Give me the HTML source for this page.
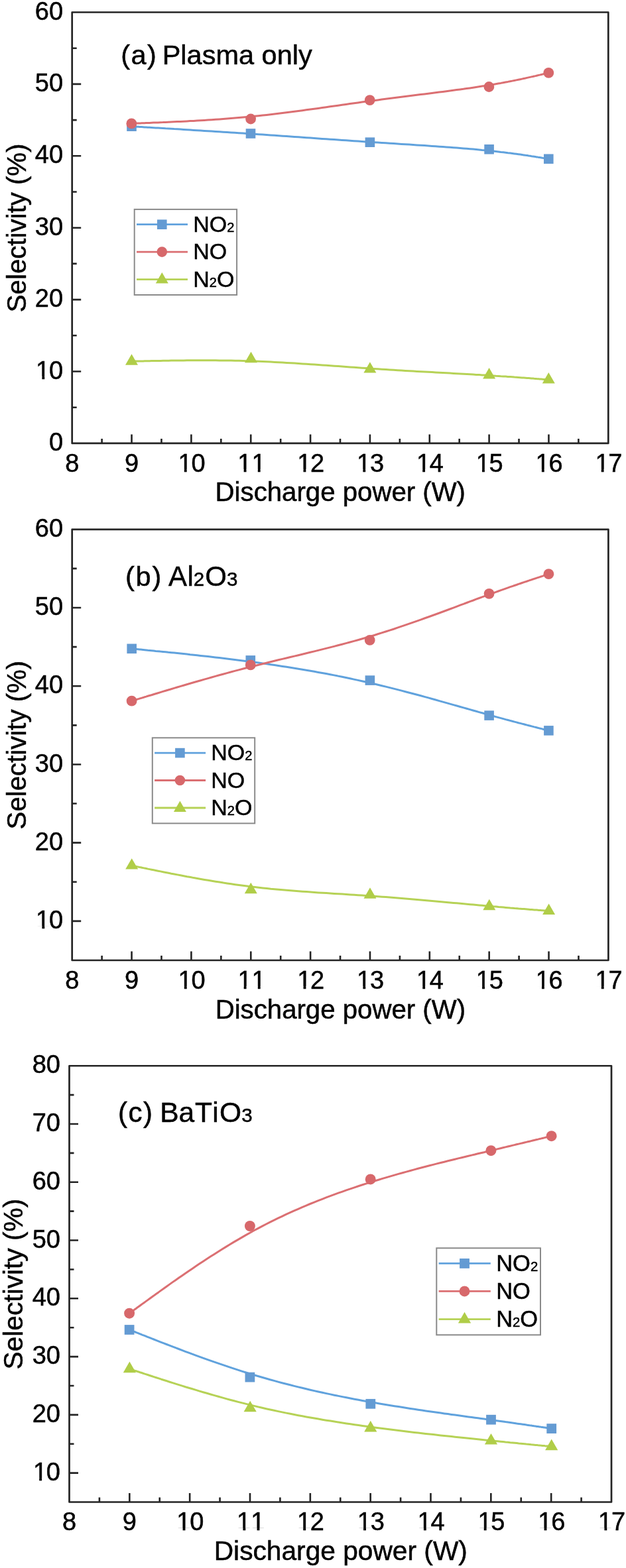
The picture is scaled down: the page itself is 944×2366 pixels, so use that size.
<!DOCTYPE html>
<html><head><meta charset="utf-8"><title>Selectivity vs discharge power</title><style>
html,body{margin:0;padding:0;background:#fff;}
svg{display:block;}
text{font-family:'Liberation Sans', Arial, sans-serif;fill:#000;font-kerning:none;}
.t{stroke:#000;stroke-width:0.5px;}
</style></head><body>
<svg width="944" height="2366" viewBox="0 0 944 2366">
<rect width="944" height="2366" fill="#fff"/>
<g id="panel0">
<path d="M198.5,190.7 L198.5,190.7 L198.5,190.7 L198.5,190.7 L198.6,190.7 L198.6,190.7 L198.7,190.7 L198.9,190.7 L199.1,190.7 L199.3,190.7 L199.6,190.8 L200.0,190.8 L200.4,190.8 L200.9,190.8 L201.5,190.9 L202.2,190.9 L203.0,191.0 L203.9,191.0 L205.0,191.1 L206.1,191.2 L207.4,191.2 L208.8,191.3 L210.3,191.4 L212.0,191.5 L213.8,191.6 L215.8,191.7 L218.0,191.9 L220.3,192.0 L222.8,192.2 L225.5,192.3 L228.4,192.5 L231.5,192.7 L234.8,192.9 L238.3,193.1 L241.9,193.3 L245.7,193.5 L249.7,193.8 L253.9,194.0 L258.2,194.3 L262.6,194.6 L267.2,194.8 L271.9,195.1 L276.8,195.4 L281.7,195.7 L286.8,196.1 L292.0,196.4 L297.3,196.7 L302.7,197.0 L308.1,197.4 L313.7,197.7 L319.3,198.1 L325.0,198.4 L330.7,198.8 L336.5,199.2 L342.4,199.6 L348.3,199.9 L354.2,200.3 L360.1,200.7 L366.1,201.1 L372.1,201.5 L378.1,201.9 L384.1,202.3 L390.0,202.7 L396.0,203.1 L402.0,203.5 L408.0,203.9 L414.0,204.3 L420.0,204.8 L426.0,205.2 L432.0,205.6 L438.0,206.0 L444.0,206.4 L450.0,206.8 L456.0,207.3 L462.0,207.7 L468.0,208.1 L473.9,208.5 L479.9,208.9 L485.9,209.4 L491.9,209.8 L497.9,210.2 L503.9,210.6 L509.9,211.0 L515.9,211.4 L521.9,211.8 L527.9,212.3 L533.9,212.7 L539.9,213.1 L545.9,213.5 L551.9,213.9 L557.9,214.3 L563.9,214.7 L569.8,215.1 L575.8,215.4 L581.8,215.8 L587.8,216.2 L593.7,216.6 L599.6,217.0 L605.5,217.4 L611.4,217.7 L617.2,218.1 L623.0,218.5 L628.8,218.9 L634.5,219.3 L640.2,219.6 L645.9,220.0 L651.5,220.4 L657.0,220.8 L662.5,221.2 L667.9,221.6 L673.3,221.9 L678.5,222.3 L683.8,222.7 L688.9,223.1 L694.0,223.5 L699.0,223.9 L703.9,224.3 L708.7,224.7 L713.4,225.1 L718.1,225.5 L722.6,225.9 L727.0,226.4 L731.4,226.8 L735.6,227.2 L739.8,227.7 L743.8,228.1 L747.7,228.5 L751.6,228.9 L755.3,229.4 L759.0,229.8 L762.5,230.2 L765.9,230.7 L769.3,231.1 L772.5,231.5 L775.7,231.9 L778.7,232.3 L781.6,232.7 L784.5,233.1 L787.2,233.5 L789.9,233.9 L792.4,234.3 L794.9,234.6 L797.2,235.0 L799.4,235.3 L801.6,235.7 L803.6,236.0 L805.6,236.3 L807.4,236.6 L809.2,236.9 L810.8,237.1 L812.3,237.4 L813.8,237.6 L815.1,237.8 L816.4,238.0 L817.6,238.2 L818.6,238.4 L819.6,238.6 L820.6,238.7 L821.4,238.8 L822.2,239.0 L822.9,239.1 L823.5,239.2 L824.1,239.3 L824.6,239.4 L825.0,239.4 L825.4,239.5 L825.8,239.6 L826.1,239.6 L826.3,239.6 L826.6,239.7 L826.7,239.7 L826.9,239.7 L827.0,239.8 L827.1,239.8 L827.2,239.8 L827.2,239.8 L827.3,239.8 L827.3,239.8 L827.3,239.8 L827.3,239.8 L827.3,239.8" fill="none" stroke="#60a2dd" stroke-width="3" stroke-linejoin="round"/>
<rect x="191.20" y="183.40" width="14.60" height="14.60" fill="#649bd3"/>
<rect x="370.70" y="194.20" width="14.60" height="14.60" fill="#649bd3"/>
<rect x="550.60" y="207.40" width="14.60" height="14.60" fill="#649bd3"/>
<rect x="730.30" y="218.00" width="14.60" height="14.60" fill="#649bd3"/>
<rect x="820.00" y="232.50" width="14.60" height="14.60" fill="#649bd3"/>
<path d="M198.3,186.4 L198.3,186.4 L198.3,186.4 L198.3,186.4 L198.4,186.4 L198.4,186.4 L198.5,186.4 L198.7,186.4 L198.9,186.4 L199.1,186.4 L199.4,186.4 L199.8,186.3 L200.2,186.3 L200.7,186.3 L201.3,186.3 L202.0,186.3 L202.8,186.2 L203.8,186.2 L204.8,186.2 L205.9,186.1 L207.2,186.1 L208.6,186.0 L210.1,185.9 L211.8,185.9 L213.6,185.8 L215.6,185.7 L217.8,185.7 L220.1,185.6 L222.7,185.5 L225.4,185.4 L228.3,185.2 L231.4,185.1 L234.7,185.0 L238.1,184.9 L241.8,184.7 L245.6,184.6 L249.6,184.4 L253.8,184.2 L258.1,184.0 L262.5,183.8 L267.1,183.6 L271.8,183.4 L276.7,183.2 L281.7,182.9 L286.7,182.6 L291.9,182.4 L297.2,182.1 L302.6,181.7 L308.1,181.4 L313.6,181.1 L319.3,180.7 L325.0,180.3 L330.7,179.9 L336.5,179.5 L342.4,179.0 L348.3,178.6 L354.2,178.1 L360.1,177.6 L366.1,177.0 L372.1,176.5 L378.1,175.9 L384.1,175.3 L390.0,174.7 L396.0,174.0 L402.0,173.4 L408.0,172.7 L414.0,172.0 L420.0,171.3 L426.0,170.5 L432.0,169.8 L438.0,169.0 L443.9,168.2 L449.9,167.5 L455.9,166.7 L461.9,165.8 L467.9,165.0 L473.9,164.2 L479.9,163.4 L485.9,162.5 L491.8,161.7 L497.8,160.8 L503.8,160.0 L509.8,159.2 L515.8,158.3 L521.8,157.5 L527.8,156.6 L533.8,155.8 L539.8,154.9 L545.7,154.1 L551.7,153.3 L557.7,152.5 L563.7,151.7 L569.7,150.9 L575.7,150.1 L581.6,149.3 L587.6,148.5 L593.5,147.8 L599.4,147.0 L605.3,146.3 L611.2,145.5 L617.1,144.8 L622.9,144.1 L628.6,143.3 L634.4,142.6 L640.0,141.9 L645.7,141.2 L651.3,140.5 L656.8,139.8 L662.3,139.1 L667.7,138.4 L673.1,137.7 L678.4,137.0 L683.6,136.3 L688.7,135.6 L693.8,134.9 L698.8,134.3 L703.7,133.6 L708.5,132.9 L713.3,132.2 L717.9,131.5 L722.4,130.8 L726.9,130.1 L731.2,129.5 L735.5,128.8 L739.6,128.1 L743.7,127.4 L747.6,126.7 L751.4,126.0 L755.2,125.4 L758.8,124.7 L762.4,124.0 L765.8,123.4 L769.2,122.7 L772.4,122.1 L775.6,121.5 L778.6,120.9 L781.6,120.3 L784.4,119.7 L787.1,119.1 L789.8,118.5 L792.3,118.0 L794.8,117.4 L797.1,116.9 L799.4,116.4 L801.5,115.9 L803.6,115.5 L805.5,115.0 L807.4,114.6 L809.1,114.2 L810.8,113.8 L812.3,113.4 L813.8,113.1 L815.1,112.8 L816.4,112.5 L817.5,112.2 L818.6,111.9 L819.6,111.7 L820.5,111.5 L821.4,111.3 L822.2,111.1 L822.9,110.9 L823.5,110.8 L824.1,110.7 L824.6,110.5 L825.0,110.4 L825.4,110.3 L825.8,110.3 L826.1,110.2 L826.3,110.1 L826.6,110.1 L826.7,110.0 L826.9,110.0 L827.0,110.0 L827.1,109.9 L827.2,109.9 L827.2,109.9 L827.3,109.9 L827.3,109.9 L827.3,109.9 L827.3,109.9 L827.3,109.9" fill="none" stroke="#db6f72" stroke-width="3" stroke-linejoin="round"/>
<circle cx="198.30" cy="186.40" r="7.90" fill="#d7686b"/>
<circle cx="378.10" cy="179.50" r="7.90" fill="#d7686b"/>
<circle cx="557.70" cy="151.10" r="7.90" fill="#d7686b"/>
<circle cx="737.40" cy="131.00" r="7.90" fill="#d7686b"/>
<circle cx="827.30" cy="109.90" r="7.90" fill="#d7686b"/>
<path d="M198.5,545.2 L198.5,545.2 L198.5,545.2 L198.5,545.2 L198.6,545.2 L198.6,545.2 L198.7,545.2 L198.9,545.2 L199.1,545.2 L199.3,545.2 L199.6,545.2 L200.0,545.2 L200.4,545.2 L200.9,545.2 L201.5,545.1 L202.2,545.1 L203.1,545.1 L204.0,545.1 L205.0,545.1 L206.1,545.1 L207.4,545.0 L208.8,545.0 L210.3,545.0 L212.0,544.9 L213.9,544.9 L215.9,544.9 L218.0,544.8 L220.4,544.8 L222.9,544.7 L225.6,544.7 L228.5,544.6 L231.6,544.6 L234.9,544.5 L238.4,544.4 L242.0,544.4 L245.9,544.3 L249.9,544.2 L254.0,544.2 L258.3,544.1 L262.8,544.0 L267.4,544.0 L272.1,543.9 L277.0,543.9 L282.0,543.8 L287.0,543.8 L292.2,543.8 L297.5,543.8 L302.9,543.7 L308.4,543.7 L314.0,543.8 L319.6,543.8 L325.3,543.8 L331.0,543.9 L336.8,543.9 L342.7,544.0 L348.6,544.1 L354.5,544.2 L360.5,544.3 L366.4,544.5 L372.4,544.7 L378.4,544.9 L384.4,545.1 L390.4,545.3 L396.4,545.5 L402.4,545.8 L408.3,546.1 L414.3,546.4 L420.3,546.7 L426.3,547.0 L432.3,547.4 L438.3,547.7 L444.3,548.1 L450.2,548.5 L456.2,548.9 L462.2,549.3 L468.2,549.7 L474.2,550.1 L480.2,550.5 L486.1,550.9 L492.1,551.3 L498.1,551.8 L504.1,552.2 L510.1,552.6 L516.1,553.1 L522.0,553.5 L528.0,553.9 L534.0,554.3 L540.0,554.8 L546.0,555.2 L552.0,555.6 L557.9,556.0 L563.9,556.4 L569.9,556.8 L575.9,557.2 L581.9,557.6 L587.8,557.9 L593.7,558.3 L599.7,558.7 L605.6,559.0 L611.4,559.4 L617.3,559.7 L623.1,560.0 L628.8,560.4 L634.6,560.7 L640.2,561.0 L645.9,561.3 L651.5,561.6 L657.0,561.9 L662.5,562.2 L667.9,562.5 L673.3,562.8 L678.5,563.1 L683.8,563.4 L688.9,563.7 L694.0,564.0 L699.0,564.3 L703.9,564.5 L708.7,564.8 L713.4,565.1 L718.1,565.4 L722.6,565.6 L727.0,565.9 L731.4,566.1 L735.6,566.4 L739.8,566.7 L743.8,566.9 L747.7,567.2 L751.6,567.4 L755.3,567.7 L759.0,567.9 L762.5,568.1 L765.9,568.4 L769.3,568.6 L772.5,568.8 L775.7,569.1 L778.7,569.3 L781.6,569.5 L784.5,569.7 L787.2,569.9 L789.9,570.1 L792.4,570.3 L794.9,570.5 L797.2,570.6 L799.4,570.8 L801.6,571.0 L803.6,571.1 L805.6,571.3 L807.4,571.4 L809.2,571.6 L810.8,571.7 L812.3,571.8 L813.8,571.9 L815.1,572.0 L816.4,572.1 L817.6,572.2 L818.6,572.3 L819.6,572.4 L820.6,572.5 L821.4,572.5 L822.2,572.6 L822.9,572.6 L823.5,572.7 L824.1,572.7 L824.6,572.8 L825.0,572.8 L825.4,572.9 L825.8,572.9 L826.1,572.9 L826.3,572.9 L826.6,572.9 L826.7,573.0 L826.9,573.0 L827.0,573.0 L827.1,573.0 L827.2,573.0 L827.2,573.0 L827.3,573.0 L827.3,573.0 L827.3,573.0 L827.3,573.0 L827.3,573.0" fill="none" stroke="#b6d256" stroke-width="3" stroke-linejoin="round"/>
<polygon points="198.50,534.23 208.00,550.68 189.00,550.68" fill="#b0cd48"/>
<polygon points="378.50,530.73 388.00,547.18 369.00,547.18" fill="#b0cd48"/>
<polygon points="557.90,546.13 567.40,562.58 548.40,562.58" fill="#b0cd48"/>
<polygon points="737.60,554.93 747.10,571.38 728.10,571.38" fill="#b0cd48"/>
<polygon points="827.30,562.03 836.80,578.48 817.80,578.48" fill="#b0cd48"/>
<path d="M198.54,668.9 V655.40 M288.39,668.9 V655.40 M378.23,668.9 V655.40 M468.08,668.9 V655.40 M557.92,668.9 V655.40 M647.77,668.9 V655.40 M737.61,668.9 V655.40 M827.46,668.9 V655.40 M153.62,668.9 V661.90 M243.47,668.9 V661.90 M333.31,668.9 V661.90 M423.16,668.9 V661.90 M513.00,668.9 V661.90 M602.84,668.9 V661.90 M692.69,668.9 V661.90 M782.53,668.9 V661.90 M872.38,668.9 V661.90 M108.7,560.50 H122.20 M108.7,452.10 H122.20 M108.7,343.70 H122.20 M108.7,235.30 H122.20 M108.7,126.90 H122.20 M108.7,614.70 H115.70 M108.7,506.30 H115.70 M108.7,397.90 H115.70 M108.7,289.50 H115.70 M108.7,181.10 H115.70 M108.7,72.70 H115.70" fill="none" stroke="#242424" stroke-width="2.6"/>
<path d="M108.7,18.5 L917.3,18.5 L917.3,668.9 L108.7,668.9 Z" fill="none" stroke="#242424" stroke-width="2.7" stroke-linejoin="round"/>
<text class="t" x="98.13" y="711.70" font-size="38">8</text>
<text class="t" x="187.98" y="711.70" font-size="38">9</text>
<text class="t" x="268.51 288.39" y="711.70" font-size="38">10</text><rect x="269.90" y="707.96" width="7.91" height="5.44" fill="#fff"/><rect x="281.67" y="707.96" width="7.61" height="5.44" fill="#fff"/>
<text class="t" x="358.35 379.49" y="711.70" font-size="38">11</text><rect x="359.75" y="707.96" width="7.91" height="5.44" fill="#fff"/><rect x="371.52" y="707.96" width="7.61" height="5.44" fill="#fff"/><rect x="380.88" y="707.96" width="7.91" height="5.44" fill="#fff"/><rect x="392.65" y="707.96" width="7.61" height="5.44" fill="#fff"/>
<text class="t" x="448.20 468.08" y="711.70" font-size="38">12</text><rect x="449.59" y="707.96" width="7.91" height="5.44" fill="#fff"/><rect x="461.36" y="707.96" width="7.61" height="5.44" fill="#fff"/>
<text class="t" x="538.04 557.92" y="711.70" font-size="38">13</text><rect x="539.44" y="707.96" width="7.91" height="5.44" fill="#fff"/><rect x="551.20" y="707.96" width="7.61" height="5.44" fill="#fff"/>
<text class="t" x="627.89 647.77" y="711.70" font-size="38">14</text><rect x="629.28" y="707.96" width="7.91" height="5.44" fill="#fff"/><rect x="641.05" y="707.96" width="7.61" height="5.44" fill="#fff"/>
<text class="t" x="717.73 737.61" y="711.70" font-size="38">15</text><rect x="719.13" y="707.96" width="7.91" height="5.44" fill="#fff"/><rect x="730.89" y="707.96" width="7.61" height="5.44" fill="#fff"/>
<text class="t" x="807.58 827.46" y="711.70" font-size="38">16</text><rect x="808.97" y="707.96" width="7.91" height="5.44" fill="#fff"/><rect x="820.74" y="707.96" width="7.61" height="5.44" fill="#fff"/>
<text class="t" x="897.42 917.30" y="711.70" font-size="38">17</text><rect x="898.82" y="707.96" width="7.91" height="5.44" fill="#fff"/><rect x="910.58" y="707.96" width="7.61" height="5.44" fill="#fff"/>
<text class="t" x="73.97" y="680.00" font-size="38">0</text>
<text class="t" x="54.09 73.97" y="571.60" font-size="38">10</text><rect x="55.48" y="567.86" width="7.91" height="5.44" fill="#fff"/><rect x="67.25" y="567.86" width="7.61" height="5.44" fill="#fff"/>
<text class="t" x="52.83 73.97" y="463.20" font-size="38">20</text>
<text class="t" x="52.83 73.97" y="354.80" font-size="38">30</text>
<text class="t" x="52.83 73.97" y="246.40" font-size="38">40</text>
<text class="t" x="52.83 73.97" y="138.00" font-size="38">50</text>
<text class="t" x="52.83 73.97" y="29.60" font-size="38">60</text>
<text class="t" x="513.30" y="756.40" text-anchor="middle" font-size="40.2">Discharge power (W)</text>
<text class="t" transform="translate(38.7,343.90) rotate(-90)" text-anchor="middle" font-size="40.2">Selectivity (%)</text>
</g>
<g id="panel1">
<path d="M198.7,978.8 L198.7,978.8 L198.7,978.8 L198.7,978.8 L198.8,978.8 L198.8,978.8 L198.9,978.8 L199.1,978.8 L199.3,978.9 L199.5,978.9 L199.8,978.9 L200.2,978.9 L200.6,979.0 L201.1,979.0 L201.7,979.1 L202.4,979.2 L203.2,979.2 L204.1,979.3 L205.1,979.4 L206.3,979.5 L207.5,979.7 L208.9,979.8 L210.5,980.0 L212.2,980.1 L214.0,980.3 L216.0,980.5 L218.1,980.7 L220.5,980.9 L223.0,981.2 L225.7,981.4 L228.5,981.7 L231.6,982.0 L234.9,982.4 L238.4,982.7 L242.0,983.1 L245.8,983.4 L249.8,983.8 L253.9,984.3 L258.2,984.7 L262.7,985.1 L267.3,985.6 L272.0,986.1 L276.8,986.6 L281.8,987.1 L286.8,987.7 L292.0,988.2 L297.3,988.8 L302.6,989.4 L308.1,990.0 L313.6,990.6 L319.3,991.3 L324.9,991.9 L330.7,992.6 L336.5,993.3 L342.3,994.0 L348.2,994.7 L354.1,995.4 L360.0,996.2 L366.0,996.9 L372.0,997.7 L378.0,998.5 L384.0,999.3 L389.9,1000.1 L395.9,1001.0 L401.9,1001.8 L407.9,1002.7 L413.9,1003.5 L419.9,1004.4 L425.9,1005.4 L431.9,1006.3 L437.9,1007.2 L443.9,1008.2 L449.9,1009.2 L455.9,1010.2 L461.9,1011.2 L467.9,1012.2 L473.9,1013.3 L479.9,1014.4 L485.9,1015.5 L491.9,1016.6 L497.9,1017.7 L503.9,1018.9 L509.9,1020.1 L515.8,1021.3 L521.8,1022.5 L527.8,1023.8 L533.8,1025.1 L539.8,1026.4 L545.8,1027.7 L551.8,1029.0 L557.8,1030.4 L563.8,1031.8 L569.8,1033.2 L575.8,1034.7 L581.8,1036.1 L587.7,1037.6 L593.7,1039.1 L599.6,1040.6 L605.5,1042.1 L611.4,1043.7 L617.2,1045.2 L623.0,1046.8 L628.8,1048.3 L634.5,1049.8 L640.2,1051.4 L645.9,1052.9 L651.5,1054.5 L657.0,1056.0 L662.5,1057.6 L667.9,1059.1 L673.3,1060.6 L678.5,1062.1 L683.8,1063.6 L688.9,1065.0 L694.0,1066.5 L699.0,1067.9 L703.9,1069.3 L708.7,1070.6 L713.4,1072.0 L718.1,1073.3 L722.6,1074.6 L727.1,1075.8 L731.4,1077.0 L735.6,1078.2 L739.8,1079.4 L743.8,1080.5 L747.8,1081.6 L751.6,1082.6 L755.4,1083.6 L759.0,1084.6 L762.5,1085.6 L766.0,1086.5 L769.3,1087.4 L772.6,1088.3 L775.7,1089.1 L778.8,1089.9 L781.7,1090.7 L784.5,1091.4 L787.3,1092.1 L789.9,1092.8 L792.5,1093.5 L794.9,1094.1 L797.3,1094.7 L799.5,1095.3 L801.7,1095.9 L803.7,1096.4 L805.6,1096.9 L807.5,1097.3 L809.2,1097.8 L810.9,1098.2 L812.4,1098.6 L813.9,1099.0 L815.2,1099.3 L816.5,1099.6 L817.7,1099.9 L818.7,1100.2 L819.7,1100.5 L820.7,1100.7 L821.5,1100.9 L822.3,1101.1 L823.0,1101.3 L823.6,1101.4 L824.2,1101.6 L824.7,1101.7 L825.1,1101.8 L825.5,1101.9 L825.9,1102.0 L826.2,1102.1 L826.4,1102.2 L826.7,1102.2 L826.8,1102.3 L827.0,1102.3 L827.1,1102.3 L827.2,1102.4 L827.3,1102.4 L827.3,1102.4 L827.4,1102.4 L827.4,1102.4 L827.4,1102.4 L827.4,1102.4 L827.4,1102.4" fill="none" stroke="#60a2dd" stroke-width="3" stroke-linejoin="round"/>
<rect x="191.40" y="971.50" width="14.60" height="14.60" fill="#649bd3"/>
<rect x="370.50" y="989.10" width="14.60" height="14.60" fill="#649bd3"/>
<rect x="550.60" y="1019.30" width="14.60" height="14.60" fill="#649bd3"/>
<rect x="730.30" y="1072.30" width="14.60" height="14.60" fill="#649bd3"/>
<rect x="820.10" y="1095.10" width="14.60" height="14.60" fill="#649bd3"/>
<path d="M198.6,1057.7 L198.6,1057.7 L198.6,1057.7 L198.6,1057.7 L198.7,1057.7 L198.7,1057.7 L198.8,1057.6 L199.0,1057.6 L199.2,1057.5 L199.4,1057.5 L199.7,1057.4 L200.1,1057.3 L200.5,1057.1 L201.0,1057.0 L201.6,1056.8 L202.3,1056.6 L203.1,1056.3 L204.0,1056.1 L205.1,1055.7 L206.2,1055.4 L207.4,1055.0 L208.8,1054.6 L210.4,1054.1 L212.1,1053.6 L213.9,1053.1 L215.9,1052.5 L218.0,1051.8 L220.4,1051.1 L222.9,1050.3 L225.6,1049.5 L228.5,1048.7 L231.6,1047.7 L234.8,1046.7 L238.3,1045.7 L241.9,1044.6 L245.8,1043.4 L249.7,1042.2 L253.9,1041.0 L258.2,1039.7 L262.6,1038.4 L267.2,1037.0 L271.9,1035.6 L276.7,1034.2 L281.7,1032.8 L286.8,1031.3 L291.9,1029.8 L297.2,1028.2 L302.6,1026.7 L308.1,1025.1 L313.6,1023.6 L319.2,1022.0 L324.9,1020.4 L330.6,1018.8 L336.4,1017.2 L342.3,1015.6 L348.1,1014.0 L354.1,1012.4 L360.0,1010.9 L366.0,1009.3 L371.9,1007.7 L377.9,1006.2 L383.9,1004.7 L389.9,1003.2 L395.9,1001.7 L401.9,1000.2 L407.9,998.7 L413.8,997.3 L419.8,995.8 L425.8,994.4 L431.8,993.0 L437.8,991.5 L443.8,990.1 L449.8,988.7 L455.8,987.2 L461.8,985.8 L467.8,984.3 L473.8,982.9 L479.8,981.4 L485.7,979.9 L491.7,978.4 L497.7,976.9 L503.7,975.4 L509.7,973.8 L515.7,972.2 L521.7,970.6 L527.7,969.0 L533.7,967.4 L539.7,965.7 L545.7,964.0 L551.7,962.2 L557.7,960.5 L563.7,958.7 L569.7,956.8 L575.7,954.9 L581.7,953.0 L587.6,951.1 L593.6,949.2 L599.5,947.2 L605.4,945.2 L611.3,943.2 L617.1,941.2 L622.9,939.1 L628.7,937.1 L634.4,935.1 L640.1,933.0 L645.8,931.0 L651.4,929.0 L656.9,927.0 L662.4,925.0 L667.8,923.0 L673.2,921.0 L678.5,919.0 L683.7,917.1 L688.9,915.1 L693.9,913.2 L698.9,911.4 L703.8,909.5 L708.7,907.7 L713.4,906.0 L718.0,904.2 L722.6,902.5 L727.0,900.9 L731.4,899.3 L735.6,897.8 L739.8,896.3 L743.8,894.8 L747.8,893.4 L751.6,892.0 L755.3,890.7 L759.0,889.4 L762.5,888.1 L766.0,886.9 L769.3,885.7 L772.6,884.6 L775.7,883.5 L778.8,882.5 L781.7,881.4 L784.5,880.5 L787.3,879.5 L789.9,878.6 L792.5,877.8 L794.9,877.0 L797.3,876.2 L799.5,875.4 L801.7,874.7 L803.7,874.0 L805.6,873.4 L807.5,872.8 L809.2,872.2 L810.9,871.6 L812.4,871.1 L813.9,870.7 L815.2,870.2 L816.5,869.8 L817.7,869.4 L818.7,869.1 L819.7,868.7 L820.7,868.4 L821.5,868.1 L822.3,867.9 L823.0,867.7 L823.6,867.5 L824.2,867.3 L824.7,867.1 L825.1,866.9 L825.5,866.8 L825.9,866.7 L826.2,866.6 L826.4,866.5 L826.7,866.4 L826.8,866.4 L827.0,866.3 L827.1,866.3 L827.2,866.3 L827.3,866.2 L827.3,866.2 L827.4,866.2 L827.4,866.2 L827.4,866.2 L827.4,866.2 L827.4,866.2" fill="none" stroke="#db6f72" stroke-width="3" stroke-linejoin="round"/>
<circle cx="198.60" cy="1057.70" r="7.90" fill="#d7686b"/>
<circle cx="377.80" cy="1003.40" r="7.90" fill="#d7686b"/>
<circle cx="557.70" cy="965.90" r="7.90" fill="#d7686b"/>
<circle cx="737.60" cy="895.80" r="7.90" fill="#d7686b"/>
<circle cx="827.40" cy="866.20" r="7.90" fill="#d7686b"/>
<path d="M198.7,1306.1 L198.7,1306.1 L198.7,1306.1 L198.7,1306.1 L198.8,1306.1 L198.8,1306.1 L198.9,1306.1 L199.1,1306.2 L199.3,1306.2 L199.5,1306.3 L199.8,1306.3 L200.2,1306.4 L200.6,1306.5 L201.1,1306.6 L201.7,1306.7 L202.4,1306.9 L203.2,1307.0 L204.1,1307.2 L205.2,1307.4 L206.3,1307.6 L207.6,1307.9 L209.0,1308.2 L210.5,1308.5 L212.2,1308.8 L214.0,1309.2 L216.0,1309.6 L218.2,1310.1 L220.5,1310.5 L223.0,1311.1 L225.7,1311.6 L228.6,1312.2 L231.7,1312.8 L235.0,1313.5 L238.5,1314.2 L242.1,1314.9 L246.0,1315.7 L249.9,1316.5 L254.1,1317.3 L258.4,1318.2 L262.8,1319.0 L267.4,1319.9 L272.2,1320.8 L277.0,1321.7 L282.0,1322.7 L287.1,1323.6 L292.2,1324.6 L297.5,1325.5 L302.9,1326.5 L308.4,1327.4 L313.9,1328.3 L319.5,1329.3 L325.2,1330.2 L331.0,1331.1 L336.8,1332.1 L342.6,1332.9 L348.5,1333.8 L354.4,1334.7 L360.4,1335.5 L366.3,1336.3 L372.3,1337.1 L378.3,1337.9 L384.3,1338.6 L390.3,1339.3 L396.3,1339.9 L402.3,1340.5 L408.3,1341.2 L414.2,1341.7 L420.2,1342.3 L426.2,1342.8 L432.2,1343.3 L438.2,1343.8 L444.2,1344.3 L450.2,1344.8 L456.2,1345.2 L462.2,1345.6 L468.2,1346.1 L474.1,1346.5 L480.1,1346.9 L486.1,1347.2 L492.1,1347.6 L498.1,1348.0 L504.1,1348.4 L510.1,1348.8 L516.1,1349.1 L522.1,1349.5 L528.1,1349.9 L534.1,1350.3 L540.0,1350.7 L546.0,1351.1 L552.0,1351.5 L558.0,1351.9 L564.0,1352.3 L570.0,1352.7 L576.0,1353.2 L581.9,1353.6 L587.9,1354.1 L593.8,1354.5 L599.8,1355.0 L605.7,1355.5 L611.5,1356.0 L617.4,1356.5 L623.2,1357.0 L629.0,1357.4 L634.7,1357.9 L640.4,1358.4 L646.0,1358.9 L651.6,1359.4 L657.2,1359.9 L662.6,1360.4 L668.1,1360.9 L673.4,1361.4 L678.7,1361.9 L683.9,1362.4 L689.1,1362.8 L694.2,1363.3 L699.2,1363.8 L704.1,1364.2 L708.9,1364.7 L713.6,1365.1 L718.3,1365.5 L722.8,1365.9 L727.2,1366.3 L731.6,1366.7 L735.8,1367.1 L740.0,1367.4 L744.0,1367.8 L748.0,1368.1 L751.8,1368.5 L755.5,1368.8 L759.2,1369.1 L762.7,1369.4 L766.2,1369.7 L769.5,1370.0 L772.8,1370.2 L775.9,1370.5 L779.0,1370.7 L781.9,1371.0 L784.7,1371.2 L787.5,1371.4 L790.1,1371.6 L792.7,1371.8 L795.1,1372.0 L797.5,1372.2 L799.7,1372.4 L801.9,1372.5 L803.9,1372.7 L805.8,1372.9 L807.7,1373.0 L809.4,1373.1 L811.1,1373.2 L812.6,1373.4 L814.1,1373.5 L815.4,1373.6 L816.7,1373.7 L817.9,1373.8 L818.9,1373.8 L819.9,1373.9 L820.9,1374.0 L821.7,1374.1 L822.5,1374.1 L823.2,1374.2 L823.8,1374.2 L824.4,1374.3 L824.9,1374.3 L825.3,1374.3 L825.7,1374.4 L826.1,1374.4 L826.4,1374.4 L826.6,1374.4 L826.9,1374.4 L827.0,1374.5 L827.2,1374.5 L827.3,1374.5 L827.4,1374.5 L827.5,1374.5 L827.5,1374.5 L827.6,1374.5 L827.6,1374.5 L827.6,1374.5 L827.6,1374.5 L827.6,1374.5" fill="none" stroke="#b6d256" stroke-width="3" stroke-linejoin="round"/>
<polygon points="198.70,1295.13 208.20,1311.58 189.20,1311.58" fill="#b0cd48"/>
<polygon points="378.30,1331.73 387.80,1348.18 368.80,1348.18" fill="#b0cd48"/>
<polygon points="558.00,1339.23 567.50,1355.68 548.50,1355.68" fill="#b0cd48"/>
<polygon points="737.80,1356.73 747.30,1373.18 728.30,1373.18" fill="#b0cd48"/>
<polygon points="827.60,1363.53 837.10,1379.98 818.10,1379.98" fill="#b0cd48"/>
<path d="M198.56,1449.0 V1435.50 M288.41,1449.0 V1435.50 M378.27,1449.0 V1435.50 M468.12,1449.0 V1435.50 M557.98,1449.0 V1435.50 M647.83,1449.0 V1435.50 M737.69,1449.0 V1435.50 M827.54,1449.0 V1435.50 M153.63,1449.0 V1442.00 M243.48,1449.0 V1442.00 M333.34,1449.0 V1442.00 M423.19,1449.0 V1442.00 M513.05,1449.0 V1442.00 M602.91,1449.0 V1442.00 M692.76,1449.0 V1442.00 M782.62,1449.0 V1442.00 M872.47,1449.0 V1442.00 M108.7,1389.89 H122.20 M108.7,1271.67 H122.20 M108.7,1153.45 H122.20 M108.7,1035.24 H122.20 M108.7,917.02 H122.20 M108.7,1330.78 H115.70 M108.7,1212.56 H115.70 M108.7,1094.35 H115.70 M108.7,976.13 H115.70 M108.7,857.91 H115.70" fill="none" stroke="#242424" stroke-width="2.6"/>
<path d="M108.7,798.8 L917.4,798.8 L917.4,1449.0 L108.7,1449.0 Z" fill="none" stroke="#242424" stroke-width="2.7" stroke-linejoin="round"/>
<text class="t" x="98.13" y="1491.80" font-size="38">8</text>
<text class="t" x="187.99" y="1491.80" font-size="38">9</text>
<text class="t" x="268.53 288.41" y="1491.80" font-size="38">10</text><rect x="269.93" y="1488.06" width="7.91" height="5.44" fill="#fff"/><rect x="281.69" y="1488.06" width="7.61" height="5.44" fill="#fff"/>
<text class="t" x="358.39 379.52" y="1491.80" font-size="38">11</text><rect x="359.78" y="1488.06" width="7.91" height="5.44" fill="#fff"/><rect x="371.55" y="1488.06" width="7.61" height="5.44" fill="#fff"/><rect x="380.92" y="1488.06" width="7.91" height="5.44" fill="#fff"/><rect x="392.68" y="1488.06" width="7.61" height="5.44" fill="#fff"/>
<text class="t" x="448.24 468.12" y="1491.80" font-size="38">12</text><rect x="449.64" y="1488.06" width="7.91" height="5.44" fill="#fff"/><rect x="461.40" y="1488.06" width="7.61" height="5.44" fill="#fff"/>
<text class="t" x="538.10 557.98" y="1491.80" font-size="38">13</text><rect x="539.49" y="1488.06" width="7.91" height="5.44" fill="#fff"/><rect x="551.26" y="1488.06" width="7.61" height="5.44" fill="#fff"/>
<text class="t" x="627.95 647.83" y="1491.80" font-size="38">14</text><rect x="629.35" y="1488.06" width="7.91" height="5.44" fill="#fff"/><rect x="641.12" y="1488.06" width="7.61" height="5.44" fill="#fff"/>
<text class="t" x="717.81 737.69" y="1491.80" font-size="38">15</text><rect x="719.20" y="1488.06" width="7.91" height="5.44" fill="#fff"/><rect x="730.97" y="1488.06" width="7.61" height="5.44" fill="#fff"/>
<text class="t" x="807.66 827.54" y="1491.80" font-size="38">16</text><rect x="809.06" y="1488.06" width="7.91" height="5.44" fill="#fff"/><rect x="820.83" y="1488.06" width="7.61" height="5.44" fill="#fff"/>
<text class="t" x="897.52 917.40" y="1491.80" font-size="38">17</text><rect x="898.92" y="1488.06" width="7.91" height="5.44" fill="#fff"/><rect x="910.68" y="1488.06" width="7.61" height="5.44" fill="#fff"/>
<text class="t" x="54.09 73.97" y="1400.99" font-size="38">10</text><rect x="55.48" y="1397.25" width="7.91" height="5.44" fill="#fff"/><rect x="67.25" y="1397.25" width="7.61" height="5.44" fill="#fff"/>
<text class="t" x="52.83 73.97" y="1282.77" font-size="38">20</text>
<text class="t" x="52.83 73.97" y="1164.55" font-size="38">30</text>
<text class="t" x="52.83 73.97" y="1046.34" font-size="38">40</text>
<text class="t" x="52.83 73.97" y="928.12" font-size="38">50</text>
<text class="t" x="52.83 73.97" y="809.90" font-size="38">60</text>
<text class="t" x="513.35" y="1536.50" text-anchor="middle" font-size="40.2">Discharge power (W)</text>
<text class="t" transform="translate(38.9,1124.10) rotate(-90)" text-anchor="middle" font-size="40.2">Selectivity (%)</text>
</g>
<g id="panel2">
<path d="M195.1,2006.5 L195.1,2006.5 L195.1,2006.5 L195.1,2006.5 L195.2,2006.5 L195.2,2006.6 L195.3,2006.6 L195.5,2006.7 L195.7,2006.7 L195.9,2006.8 L196.2,2006.9 L196.6,2007.1 L197.0,2007.3 L197.6,2007.5 L198.2,2007.7 L198.9,2008.0 L199.7,2008.3 L200.6,2008.7 L201.6,2009.1 L202.8,2009.5 L204.1,2010.0 L205.5,2010.6 L207.0,2011.2 L208.8,2011.9 L210.6,2012.6 L212.6,2013.4 L214.8,2014.3 L217.2,2015.2 L219.7,2016.2 L222.5,2017.3 L225.4,2018.4 L228.5,2019.7 L231.9,2021.0 L235.4,2022.4 L239.1,2023.8 L242.9,2025.3 L247.0,2026.9 L251.2,2028.5 L255.5,2030.2 L260.0,2031.9 L264.7,2033.7 L269.5,2035.5 L274.4,2037.4 L279.4,2039.3 L284.5,2041.2 L289.8,2043.1 L295.1,2045.1 L300.6,2047.1 L306.1,2049.1 L311.7,2051.1 L317.4,2053.1 L323.2,2055.1 L329.0,2057.2 L334.9,2059.2 L340.8,2061.2 L346.7,2063.2 L352.7,2065.2 L358.8,2067.1 L364.8,2069.1 L370.9,2071.0 L376.9,2072.9 L383.0,2074.7 L389.0,2076.5 L395.1,2078.3 L401.2,2080.0 L407.2,2081.8 L413.3,2083.4 L419.4,2085.1 L425.4,2086.7 L431.5,2088.3 L437.5,2089.8 L443.6,2091.4 L449.7,2092.9 L455.7,2094.3 L461.8,2095.8 L467.8,2097.2 L473.9,2098.6 L480.0,2100.0 L486.0,2101.3 L492.1,2102.6 L498.2,2103.9 L504.2,2105.2 L510.3,2106.4 L516.3,2107.6 L522.4,2108.8 L528.5,2110.0 L534.5,2111.2 L540.6,2112.3 L546.6,2113.4 L552.7,2114.5 L558.8,2115.6 L564.8,2116.6 L570.9,2117.7 L576.9,2118.7 L583.0,2119.7 L589.0,2120.7 L595.0,2121.7 L601.0,2122.6 L607.0,2123.6 L612.9,2124.5 L618.8,2125.4 L624.7,2126.3 L630.5,2127.2 L636.3,2128.0 L642.1,2128.9 L647.8,2129.7 L653.4,2130.5 L659.0,2131.3 L664.6,2132.1 L670.0,2132.9 L675.5,2133.6 L680.8,2134.4 L686.1,2135.1 L691.3,2135.8 L696.4,2136.5 L701.5,2137.2 L706.5,2137.9 L711.3,2138.5 L716.1,2139.2 L720.8,2139.8 L725.4,2140.4 L729.9,2141.1 L734.3,2141.7 L738.6,2142.3 L742.8,2142.8 L746.9,2143.4 L750.9,2144.0 L754.8,2144.5 L758.6,2145.0 L762.3,2145.6 L765.9,2146.1 L769.4,2146.6 L772.7,2147.0 L776.0,2147.5 L779.2,2148.0 L782.3,2148.4 L785.3,2148.8 L788.2,2149.2 L791.0,2149.6 L793.7,2150.0 L796.2,2150.4 L798.7,2150.8 L801.1,2151.1 L803.4,2151.4 L805.6,2151.8 L807.6,2152.1 L809.6,2152.4 L811.5,2152.6 L813.3,2152.9 L814.9,2153.1 L816.5,2153.4 L818.0,2153.6 L819.3,2153.8 L820.6,2154.0 L821.8,2154.1 L822.9,2154.3 L823.9,2154.5 L824.9,2154.6 L825.7,2154.7 L826.5,2154.8 L827.2,2154.9 L827.8,2155.0 L828.4,2155.1 L828.9,2155.2 L829.4,2155.3 L829.8,2155.3 L830.2,2155.4 L830.5,2155.4 L830.7,2155.5 L831.0,2155.5 L831.1,2155.5 L831.3,2155.5 L831.4,2155.6 L831.5,2155.6 L831.6,2155.6 L831.6,2155.6 L831.7,2155.6 L831.7,2155.6 L831.7,2155.6 L831.7,2155.6 L831.7,2155.6" fill="none" stroke="#60a2dd" stroke-width="3" stroke-linejoin="round"/>
<rect x="187.73" y="1999.13" width="14.75" height="14.75" fill="#649bd3"/>
<rect x="369.53" y="2070.73" width="14.75" height="14.75" fill="#649bd3"/>
<rect x="551.43" y="2110.93" width="14.75" height="14.75" fill="#649bd3"/>
<rect x="733.13" y="2134.83" width="14.75" height="14.75" fill="#649bd3"/>
<rect x="824.33" y="2148.23" width="14.75" height="14.75" fill="#649bd3"/>
<path d="M195.1,1981.7 L195.1,1981.7 L195.1,1981.7 L195.1,1981.7 L195.2,1981.6 L195.2,1981.6 L195.3,1981.5 L195.5,1981.4 L195.7,1981.3 L195.9,1981.1 L196.2,1980.9 L196.6,1980.6 L197.0,1980.3 L197.6,1979.9 L198.2,1979.5 L198.9,1979.0 L199.7,1978.4 L200.6,1977.7 L201.6,1977.0 L202.8,1976.1 L204.1,1975.2 L205.5,1974.2 L207.0,1973.0 L208.8,1971.8 L210.6,1970.5 L212.6,1969.0 L214.8,1967.4 L217.2,1965.7 L219.7,1963.9 L222.5,1961.9 L225.4,1959.8 L228.5,1957.5 L231.9,1955.1 L235.4,1952.5 L239.1,1949.9 L242.9,1947.1 L247.0,1944.2 L251.2,1941.2 L255.5,1938.1 L260.0,1934.9 L264.7,1931.7 L269.5,1928.3 L274.4,1924.9 L279.4,1921.5 L284.5,1917.9 L289.8,1914.4 L295.1,1910.8 L300.6,1907.1 L306.1,1903.5 L311.7,1899.8 L317.4,1896.1 L323.2,1892.4 L329.0,1888.7 L334.9,1885.0 L340.8,1881.4 L346.7,1877.7 L352.7,1874.1 L358.8,1870.6 L364.8,1867.1 L370.8,1863.6 L376.9,1860.2 L383.0,1856.8 L389.0,1853.6 L395.1,1850.4 L401.1,1847.2 L407.2,1844.1 L413.3,1841.1 L419.3,1838.2 L425.4,1835.3 L431.4,1832.4 L437.5,1829.7 L443.6,1826.9 L449.6,1824.3 L455.7,1821.6 L461.7,1819.1 L467.8,1816.5 L473.9,1814.1 L479.9,1811.7 L486.0,1809.3 L492.0,1806.9 L498.1,1804.7 L504.2,1802.4 L510.2,1800.2 L516.3,1798.1 L522.3,1795.9 L528.4,1793.9 L534.4,1791.8 L540.5,1789.8 L546.6,1787.8 L552.6,1785.9 L558.7,1784.0 L564.7,1782.1 L570.8,1780.2 L576.8,1778.4 L582.9,1776.6 L588.9,1774.9 L594.9,1773.1 L600.9,1771.4 L606.9,1769.7 L612.8,1768.1 L618.7,1766.5 L624.6,1764.9 L630.4,1763.3 L636.2,1761.8 L642.0,1760.3 L647.7,1758.8 L653.3,1757.4 L658.9,1755.9 L664.5,1754.5 L669.9,1753.2 L675.4,1751.8 L680.7,1750.5 L686.0,1749.2 L691.2,1747.9 L696.3,1746.7 L701.4,1745.5 L706.4,1744.3 L711.2,1743.1 L716.0,1742.0 L720.7,1740.8 L725.3,1739.7 L729.8,1738.7 L734.2,1737.6 L738.5,1736.6 L742.7,1735.6 L746.8,1734.6 L750.8,1733.6 L754.7,1732.7 L758.5,1731.8 L762.2,1730.9 L765.8,1730.0 L769.3,1729.2 L772.6,1728.4 L775.9,1727.6 L779.1,1726.8 L782.2,1726.1 L785.2,1725.4 L788.1,1724.7 L790.9,1724.0 L793.6,1723.4 L796.1,1722.8 L798.6,1722.2 L801.0,1721.6 L803.3,1721.0 L805.5,1720.5 L807.5,1720.0 L809.5,1719.5 L811.4,1719.1 L813.2,1718.6 L814.8,1718.2 L816.4,1717.9 L817.9,1717.5 L819.2,1717.2 L820.5,1716.9 L821.7,1716.6 L822.8,1716.3 L823.8,1716.1 L824.8,1715.9 L825.6,1715.6 L826.4,1715.5 L827.1,1715.3 L827.7,1715.1 L828.3,1715.0 L828.8,1714.9 L829.3,1714.8 L829.7,1714.7 L830.1,1714.6 L830.4,1714.5 L830.6,1714.4 L830.9,1714.4 L831.0,1714.3 L831.2,1714.3 L831.3,1714.3 L831.4,1714.2 L831.5,1714.2 L831.5,1714.2 L831.6,1714.2 L831.6,1714.2 L831.6,1714.2 L831.6,1714.2 L831.6,1714.2" fill="none" stroke="#db6f72" stroke-width="3" stroke-linejoin="round"/>
<circle cx="195.10" cy="1981.70" r="7.98" fill="#d7686b"/>
<circle cx="376.90" cy="1850.00" r="7.98" fill="#d7686b"/>
<circle cx="558.70" cy="1779.40" r="7.98" fill="#d7686b"/>
<circle cx="740.40" cy="1736.20" r="7.98" fill="#d7686b"/>
<circle cx="831.60" cy="1714.20" r="7.98" fill="#d7686b"/>
<path d="M195.4,2065.6 L195.4,2065.6 L195.4,2065.6 L195.4,2065.6 L195.5,2065.6 L195.5,2065.6 L195.6,2065.7 L195.8,2065.7 L196.0,2065.8 L196.2,2065.9 L196.5,2066.0 L196.9,2066.1 L197.3,2066.2 L197.9,2066.4 L198.5,2066.6 L199.2,2066.8 L200.0,2067.1 L200.9,2067.4 L201.9,2067.7 L203.1,2068.1 L204.4,2068.5 L205.8,2069.0 L207.3,2069.5 L209.1,2070.0 L210.9,2070.7 L212.9,2071.3 L215.1,2072.0 L217.5,2072.8 L220.0,2073.6 L222.8,2074.5 L225.7,2075.5 L228.8,2076.5 L232.2,2077.6 L235.7,2078.7 L239.4,2079.9 L243.2,2081.2 L247.3,2082.5 L251.5,2083.8 L255.8,2085.2 L260.3,2086.6 L265.0,2088.1 L269.8,2089.6 L274.7,2091.1 L279.7,2092.7 L284.8,2094.2 L290.1,2095.8 L295.4,2097.4 L300.9,2099.1 L306.4,2100.7 L312.0,2102.3 L317.7,2104.0 L323.5,2105.6 L329.3,2107.3 L335.1,2108.9 L341.1,2110.6 L347.0,2112.2 L353.0,2113.8 L359.0,2115.4 L365.1,2116.9 L371.1,2118.4 L377.2,2119.9 L383.2,2121.4 L389.3,2122.9 L395.3,2124.3 L401.4,2125.7 L407.4,2127.0 L413.5,2128.3 L419.6,2129.6 L425.6,2130.9 L431.7,2132.1 L437.7,2133.3 L443.8,2134.5 L449.8,2135.7 L455.9,2136.8 L461.9,2137.9 L468.0,2139.0 L474.1,2140.1 L480.1,2141.1 L486.2,2142.2 L492.2,2143.2 L498.3,2144.1 L504.3,2145.1 L510.4,2146.1 L516.4,2147.0 L522.5,2147.9 L528.5,2148.8 L534.6,2149.7 L540.7,2150.5 L546.7,2151.4 L552.8,2152.2 L558.8,2153.1 L564.9,2153.9 L570.9,2154.7 L577.0,2155.5 L583.0,2156.2 L589.0,2157.0 L595.0,2157.8 L601.0,2158.5 L607.0,2159.2 L612.9,2160.0 L618.8,2160.7 L624.7,2161.4 L630.5,2162.0 L636.3,2162.7 L642.1,2163.4 L647.8,2164.0 L653.4,2164.6 L659.0,2165.3 L664.6,2165.9 L670.0,2166.5 L675.5,2167.1 L680.8,2167.6 L686.1,2168.2 L691.3,2168.7 L696.4,2169.3 L701.5,2169.8 L706.5,2170.3 L711.3,2170.8 L716.1,2171.3 L720.8,2171.8 L725.4,2172.3 L729.9,2172.7 L734.3,2173.2 L738.6,2173.6 L742.8,2174.0 L746.9,2174.4 L750.9,2174.8 L754.8,2175.2 L758.6,2175.6 L762.3,2176.0 L765.9,2176.3 L769.4,2176.7 L772.7,2177.0 L776.0,2177.3 L779.2,2177.6 L782.3,2178.0 L785.3,2178.2 L788.2,2178.5 L791.0,2178.8 L793.7,2179.1 L796.2,2179.3 L798.7,2179.5 L801.1,2179.8 L803.4,2180.0 L805.6,2180.2 L807.6,2180.4 L809.6,2180.6 L811.5,2180.8 L813.3,2180.9 L814.9,2181.1 L816.5,2181.2 L818.0,2181.4 L819.3,2181.5 L820.6,2181.6 L821.8,2181.8 L822.9,2181.9 L823.9,2182.0 L824.9,2182.0 L825.7,2182.1 L826.5,2182.2 L827.2,2182.3 L827.8,2182.3 L828.4,2182.4 L828.9,2182.4 L829.4,2182.5 L829.8,2182.5 L830.2,2182.6 L830.5,2182.6 L830.7,2182.6 L831.0,2182.6 L831.1,2182.6 L831.3,2182.7 L831.4,2182.7 L831.5,2182.7 L831.6,2182.7 L831.6,2182.7 L831.7,2182.7 L831.7,2182.7 L831.7,2182.7 L831.7,2182.7 L831.7,2182.7" fill="none" stroke="#b6d256" stroke-width="3" stroke-linejoin="round"/>
<polygon points="195.40,2054.52 205.00,2071.14 185.81,2071.14" fill="#b0cd48"/>
<polygon points="377.20,2113.72 386.80,2130.34 367.60,2130.34" fill="#b0cd48"/>
<polygon points="558.80,2143.82 568.39,2160.44 549.20,2160.44" fill="#b0cd48"/>
<polygon points="740.50,2162.92 750.10,2179.54 730.90,2179.54" fill="#b0cd48"/>
<polygon points="831.70,2171.62 841.30,2188.24 822.11,2188.24" fill="#b0cd48"/>
<path d="M195.33,2266.5 V2253.00 M286.17,2266.5 V2253.00 M377.00,2266.5 V2253.00 M467.83,2266.5 V2253.00 M558.67,2266.5 V2253.00 M649.50,2266.5 V2253.00 M740.33,2266.5 V2253.00 M831.17,2266.5 V2253.00 M149.92,2266.5 V2259.50 M240.75,2266.5 V2259.50 M331.58,2266.5 V2259.50 M422.42,2266.5 V2259.50 M513.25,2266.5 V2259.50 M604.08,2266.5 V2259.50 M694.92,2266.5 V2259.50 M785.75,2266.5 V2259.50 M876.58,2266.5 V2259.50 M104.5,2222.62 H118.00 M104.5,2134.85 H118.00 M104.5,2047.08 H118.00 M104.5,1959.32 H118.00 M104.5,1871.55 H118.00 M104.5,1783.78 H118.00 M104.5,1696.02 H118.00 M104.5,2178.73 H111.50 M104.5,2090.97 H111.50 M104.5,2003.20 H111.50 M104.5,1915.43 H111.50 M104.5,1827.67 H111.50 M104.5,1739.90 H111.50 M104.5,1652.13 H111.50" fill="none" stroke="#242424" stroke-width="2.6"/>
<path d="M104.5,1608.25 L922,1608.25 L922,2266.5 L104.5,2266.5 Z" fill="none" stroke="#242424" stroke-width="2.7" stroke-linejoin="round"/>
<text class="t" x="93.93" y="2309.30" font-size="38">8</text>
<text class="t" x="184.77" y="2309.30" font-size="38">9</text>
<text class="t" x="266.29 286.17" y="2309.30" font-size="38">10</text><rect x="267.68" y="2305.56" width="7.91" height="5.44" fill="#fff"/><rect x="279.45" y="2305.56" width="7.61" height="5.44" fill="#fff"/>
<text class="t" x="357.12 378.25" y="2309.30" font-size="38">11</text><rect x="358.52" y="2305.56" width="7.91" height="5.44" fill="#fff"/><rect x="370.28" y="2305.56" width="7.61" height="5.44" fill="#fff"/><rect x="379.65" y="2305.56" width="7.91" height="5.44" fill="#fff"/><rect x="391.42" y="2305.56" width="7.61" height="5.44" fill="#fff"/>
<text class="t" x="447.95 467.83" y="2309.30" font-size="38">12</text><rect x="449.35" y="2305.56" width="7.91" height="5.44" fill="#fff"/><rect x="461.12" y="2305.56" width="7.61" height="5.44" fill="#fff"/>
<text class="t" x="538.79 558.67" y="2309.30" font-size="38">13</text><rect x="540.18" y="2305.56" width="7.91" height="5.44" fill="#fff"/><rect x="551.95" y="2305.56" width="7.61" height="5.44" fill="#fff"/>
<text class="t" x="629.62 649.50" y="2309.30" font-size="38">14</text><rect x="631.02" y="2305.56" width="7.91" height="5.44" fill="#fff"/><rect x="642.78" y="2305.56" width="7.61" height="5.44" fill="#fff"/>
<text class="t" x="720.45 740.33" y="2309.30" font-size="38">15</text><rect x="721.85" y="2305.56" width="7.91" height="5.44" fill="#fff"/><rect x="733.62" y="2305.56" width="7.61" height="5.44" fill="#fff"/>
<text class="t" x="811.29 831.17" y="2309.30" font-size="38">16</text><rect x="812.68" y="2305.56" width="7.91" height="5.44" fill="#fff"/><rect x="824.45" y="2305.56" width="7.61" height="5.44" fill="#fff"/>
<text class="t" x="902.12 922.00" y="2309.30" font-size="38">17</text><rect x="903.52" y="2305.56" width="7.91" height="5.44" fill="#fff"/><rect x="915.28" y="2305.56" width="7.61" height="5.44" fill="#fff"/>
<text class="t" x="49.89 69.77" y="2233.72" font-size="38">10</text><rect x="51.28" y="2229.98" width="7.91" height="5.44" fill="#fff"/><rect x="63.05" y="2229.98" width="7.61" height="5.44" fill="#fff"/>
<text class="t" x="48.63 69.77" y="2145.95" font-size="38">20</text>
<text class="t" x="48.63 69.77" y="2058.18" font-size="38">30</text>
<text class="t" x="48.63 69.77" y="1970.42" font-size="38">40</text>
<text class="t" x="48.63 69.77" y="1882.65" font-size="38">50</text>
<text class="t" x="48.63 69.77" y="1794.88" font-size="38">60</text>
<text class="t" x="48.63 69.77" y="1707.12" font-size="38">70</text>
<text class="t" x="48.63 69.77" y="1619.35" font-size="38">80</text>
<text class="t" x="513.80" y="2354.00" text-anchor="middle" font-size="40.7">Discharge power (W)</text>
<text class="t" transform="translate(34.0,1937.58) rotate(-90)" text-anchor="middle" font-size="40.7">Selectivity (%)</text>
</g>
<text class="t" x="182.2" y="96.6" font-size="41.5"><tspan letter-spacing="1.4">(a)</tspan> <tspan x="244.7">Plasma only</tspan></text>
<text class="t" x="189.0" y="883.5" font-size="41.5"><tspan letter-spacing="1.8">(b)</tspan> <tspan x="254.0" font-size="42">A</tspan><tspan x="282.5" font-size="42">l</tspan><tspan x="291.7" font-size="29.5">2</tspan><tspan x="309.3" font-size="42">O</tspan><tspan x="342.0" font-size="29.5">3</tspan></text>
<text class="t" x="178.0" y="1692.5" font-size="42"><tspan letter-spacing="1.5">(c)</tspan> <tspan x="241.2" font-size="42.5">B</tspan><tspan x="269.4" font-size="42.5">a</tspan><tspan x="293.9" font-size="42.5">T</tspan><tspan x="320.2" font-size="42.5">i</tspan><tspan x="330.9" font-size="42.5">O</tspan><tspan x="364.2" font-size="29.5">3</tspan></text>
<rect x="202.7" y="315.9" width="154.4" height="129.1" fill="none" stroke="#8a8a8a" stroke-width="2"/>
<path d="M206.00,338.70 H283.00" stroke="#60a2dd" stroke-width="2.8"/>
<rect x="237.00" y="331.40" width="14.60" height="14.60" fill="#649bd3"/>
<path d="M206.00,380.10 H283.00" stroke="#db6f72" stroke-width="2.8"/>
<circle cx="244.30" cy="380.10" r="7.80" fill="#d7686b"/>
<path d="M206.00,421.60 H283.00" stroke="#b6d256" stroke-width="2.8"/>
<polygon points="244.30,411.03 253.80,427.48 234.80,427.48" fill="#b0cd48"/>
<text class="t" x="291.20" y="349.70" font-size="34.0">NO<tspan font-size="20.0">2</tspan></text>
<text class="t" x="291.20" y="391.20" font-size="34.0">NO</text>
<text class="t" x="291.20" y="432.70" font-size="34.0">N<tspan font-size="20.0">2</tspan>O</text>
<rect x="229.8" y="1113.3" width="154.4" height="129.1" fill="none" stroke="#8a8a8a" stroke-width="2"/>
<path d="M233.10,1136.10 H310.10" stroke="#60a2dd" stroke-width="2.8"/>
<rect x="264.10" y="1128.80" width="14.60" height="14.60" fill="#649bd3"/>
<path d="M233.10,1177.50 H310.10" stroke="#db6f72" stroke-width="2.8"/>
<circle cx="271.40" cy="1177.50" r="7.80" fill="#d7686b"/>
<path d="M233.10,1219.00 H310.10" stroke="#b6d256" stroke-width="2.8"/>
<polygon points="271.40,1208.43 280.90,1224.88 261.90,1224.88" fill="#b0cd48"/>
<text class="t" x="318.30" y="1147.10" font-size="34.0">NO<tspan font-size="20.0">2</tspan></text>
<text class="t" x="318.30" y="1188.60" font-size="34.0">NO</text>
<text class="t" x="318.30" y="1230.10" font-size="34.0">N<tspan font-size="20.0">2</tspan>O</text>
<rect x="658.3" y="1883.3" width="156.7" height="131.0" fill="none" stroke="#8a8a8a" stroke-width="2"/>
<path d="M661.65,1906.44 H739.80" stroke="#60a2dd" stroke-width="2.8"/>
<rect x="693.11" y="1899.03" width="14.82" height="14.82" fill="#649bd3"/>
<path d="M661.65,1948.46 H739.80" stroke="#db6f72" stroke-width="2.8"/>
<circle cx="700.52" cy="1948.46" r="7.92" fill="#d7686b"/>
<path d="M661.65,1990.59 H739.80" stroke="#b6d256" stroke-width="2.8"/>
<polygon points="700.52,1979.85 710.17,1996.55 690.88,1996.55" fill="#b0cd48"/>
<text class="t" x="748.13" y="1917.61" font-size="34.5">NO<tspan font-size="20.3">2</tspan></text>
<text class="t" x="748.13" y="1959.73" font-size="34.5">NO</text>
<text class="t" x="748.13" y="2001.85" font-size="34.5">N<tspan font-size="20.3">2</tspan>O</text>
</svg>
</body></html>
